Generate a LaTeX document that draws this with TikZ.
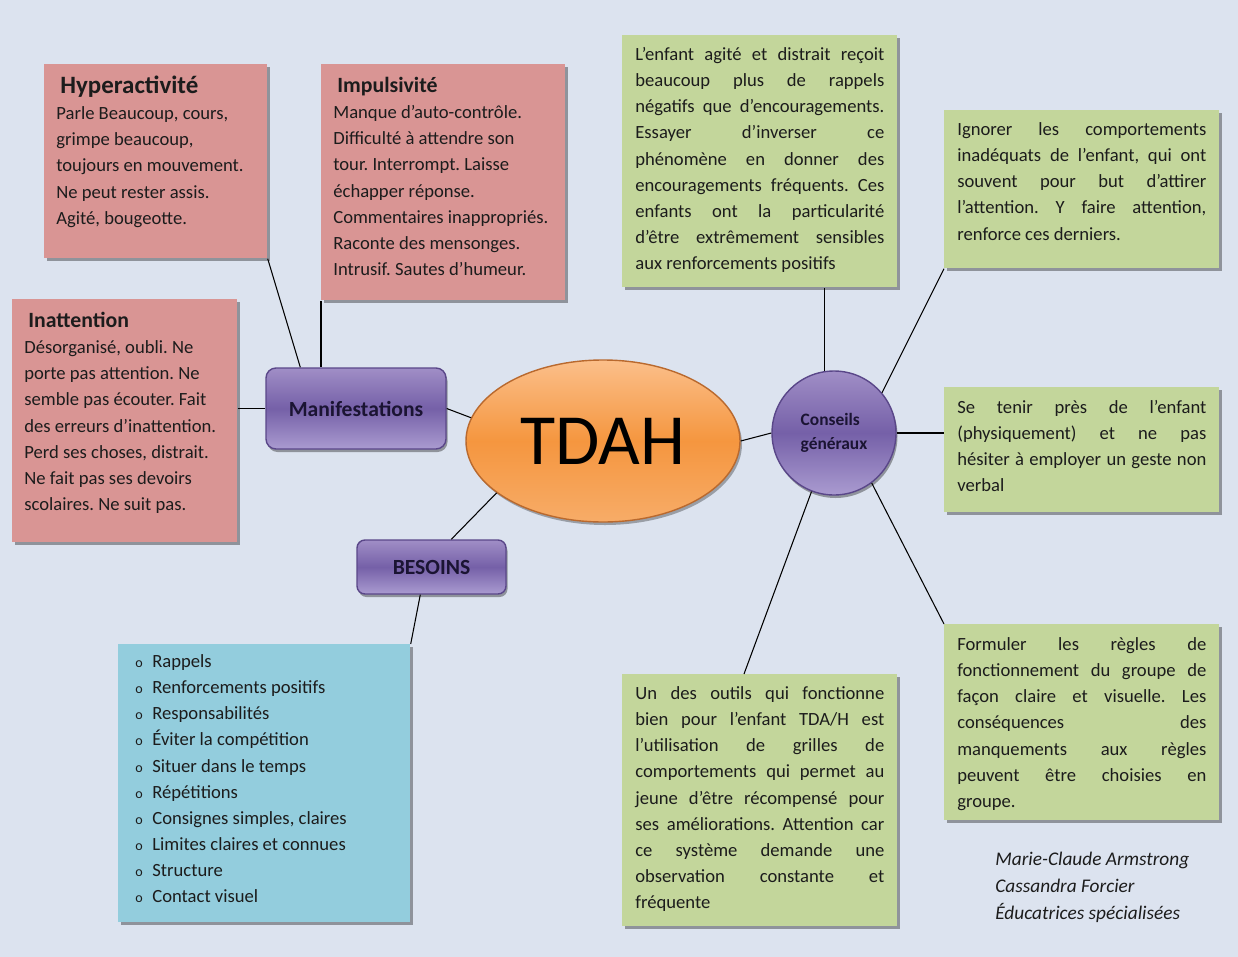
\documentclass[tikz,border=0pt]{standalone}
\usepackage{fontspec}
\setmainfont{Carlito}
\usepackage{tikz}
\usetikzlibrary{shapes.geometric,shadows}

\definecolor{fond}{HTML}{DCE3EF}
\definecolor{rougeboite}{HTML}{D99594}
\definecolor{vertboite}{HTML}{C3D69B}
\definecolor{bleuboite}{HTML}{93CDDD}
\definecolor{violetclair}{HTML}{A08EC6}
\definecolor{violetfonce}{HTML}{7560A8}
\definecolor{violetbas}{HTML}{AA9BD0}
\definecolor{violettrait}{HTML}{5A4789}
\definecolor{orangeclair}{HTML}{FBBF8A}
\definecolor{orangemilieu}{HTML}{F5963F}
\definecolor{orangebas}{HTML}{F7AC68}
\definecolor{orangetrait}{HTML}{B9692E}
\definecolor{texte}{HTML}{1C1C1C}
\definecolor{encre}{HTML}{1B1433}

\newlength{\px}
\setlength{\px}{0.02cm}
\newcommand{\corps}{\fontsize{10.6}{14.9}\selectfont\frenchspacing}
\newcommand{\gros}[2][12.4]{{\fontsize{#1}{14.9}\selectfont\bfseries\hspace*{4\px}#2}}
\newcommand{\puce}[1]{\hspace*{5\px}\makebox[17\px][l]{\fontsize{8}{10}\selectfont o}#1}
% largeur, hauteur, premiere ligne, texte
\newcommand{\boite}[4]{\parbox[t][#2\px][t]{#1\px}{\tolerance=9999\hbadness=10000\hyphenpenalty=10000\rule{0pt}{#3\px}#4}}

\begin{document}
\begin{tikzpicture}[x=0.02cm, y=-0.02cm,
    boite/.style={rectangle, inner xsep=12\px, inner ysep=0pt, anchor=north west, font=\corps, text=texte,
        drop shadow={shadow xshift=3\px, shadow yshift=-3\px, fill=black, opacity=.35}},
    rouge/.style={boite, fill=rougeboite},
    vert/.style={boite, fill=vertboite, inner xsep=13\px},
    bleu/.style={boite, fill=bleuboite},
    violet/.style={draw=violettrait, line width=0.8pt, top color=violetclair, bottom color=violetbas,
        middle color=violetfonce, text=encre, font=\fontsize{12.3}{14}\selectfont\bfseries,
        drop shadow={shadow xshift=1.5\px, shadow yshift=-3\px, fill=black, opacity=.35}},
    lien/.style={draw=black, line width=0.6pt}]

    % Fond
    \fill[fond] (0,0) rectangle (1238,957);
    \useasboundingbox (0,0) rectangle (1238,957);

    % Centre
    \node[ellipse, draw=orangetrait, line width=0.8pt, top color=orangeclair, bottom color=orangebas,
        middle color=orangemilieu, minimum width=274\px, minimum height=162\px, font=\fontsize{41}{45}\selectfont,
        drop shadow={shadow xshift=2\px, shadow yshift=-3\px, fill=black, opacity=.3}] (tdah) at (603,441) {TDAH};

    % Manifestations
    \node[violet, rounded corners=10\px, minimum width=180\px, minimum height=81\px] (manif) at (356,408.5) {Manifestations};
    \node[violet, rounded corners=8\px, minimum width=149\px, minimum height=54\px] (besoins) at (431.5,567) {BESOINS};

    \node[rouge] (hyper) at (44,64) {\boite{199}{194}{29}{\raggedright\gros[14.2]{Hyperactivité}\\
        Parle Beaucoup, cours,\\ grimpe beaucoup,\\ toujours en mouvement.\\ Ne peut rester assis.\\ Agité, bougeotte.}};
    \node[rouge] (impuls) at (321,64) {\boite{220}{236}{28}{\raggedright\gros{Impulsivité}\\
        Manque d’auto-contrôle.\\ Difficulté à attendre son\\ tour. Interrompt. Laisse\\ échapper réponse.\\
        Commentaires inappropriés.\\ Raconte des mensonges.\\ Intrusif. Sautes d’humeur.}};
    \node[rouge] (inatt) at (12,299) {\boite{201}{243}{28}{\raggedright\gros{Inattention}\\
        Désorganisé, oubli. Ne\\ porte pas attention. Ne\\ semble pas écouter. Fait\\ des erreurs d’inattention.\\
        Perd ses choses, distrait.\\ Ne fait pas ses devoirs\\ scolaires. Ne suit pas.}};

    % Besoins
    \node[bleu] (liste) at (118,644) {\boite{268}{278}{23}{\puce{Rappels}\\ \puce{Renforcements positifs}\\
        \puce{Responsabilités}\\ \puce{Éviter la compétition}\\ \puce{Situer dans le temps}\\ \puce{Répétitions}\\
        \puce{Consignes simples, claires}\\ \puce{Limites claires et connues}\\ \puce{Structure}\\ \puce{Contact visuel}}};

    % Conseils generaux
    \node[violet, circle, minimum size=124\px, inner sep=0pt, align=left, font=\fontsize{9.9}{14}\selectfont\bfseries]
        (conseils) at (834,433) {Conseils\\généraux};

    \node[vert] (conseil1) at (622,35) {\boite{249}{252}{25}{L’enfant agité et distrait reçoit\linebreak
        beaucoup plus de rappels\linebreak négatifs que d’encouragements.\linebreak Essayer d’inverser ce\linebreak
        phénomène en donner des\linebreak encouragements fréquents. Ces\linebreak enfants ont la particularité\linebreak
        d’être extrêmement sensibles\linebreak aux renforcements positifs}};
    \node[vert] (conseil2) at (944,110) {\boite{249}{158}{25}{Ignorer les comportements\linebreak
        inadéquats de l’enfant, qui ont\linebreak souvent pour but d’attirer\linebreak
        l’attention. Y faire attention,\linebreak renforce ces derniers.}};
    \node[vert] (conseil3) at (944,387) {\boite{249}{125}{26}{Se tenir près de l’enfant\linebreak
        (physiquement) et ne pas\linebreak hésiter à employer un geste non\linebreak verbal}};
    \node[vert] (conseil4) at (944,624) {\boite{249}{196}{26}{Formuler les règles de\linebreak
        fonctionnement du groupe de\linebreak façon claire et visuelle. Les\linebreak conséquences des\linebreak
        manquements aux règles\linebreak peuvent être choisies en\linebreak groupe.}};
    \node[vert] (conseil5) at (622,674) {\boite{249}{252}{25}{Un des outils qui fonctionne\linebreak
        bien pour l’enfant TDA/H est\linebreak l’utilisation de grilles de\linebreak comportements qui permet au\linebreak
        jeune d’être récompensé pour\linebreak ses améliorations. Attention car\linebreak ce système demande une\linebreak
        observation constante et\linebreak fréquente}};

    % Auteures
    \node[anchor=north west, align=left, inner sep=0pt, text=texte, font=\fontsize{11}{15.3}\selectfont\itshape]
        (auteurs) at (995,852) {Marie-Claude Armstrong\\ Cassandra Forcier\\ Éducatrices spécialisées};

    % Liens
    \draw[lien] (hyper.south east) -- ([xshift=35\px]manif.north west);
    \draw[lien] (impuls.south west) -- (impuls.south west |- manif.north);
    \draw[lien] (inatt.east |- manif.west) -- (manif.west);
    \draw[lien] (manif.east) -- (tdah.170);
    \draw[lien] (tdah.206) -- ([xshift=95\px]besoins.north west);
    \draw[lien] ([xshift=64\px]besoins.south west) -- (liste.north east);
    \draw[lien] (tdah.east) -- (conseils.west);
    \draw[lien] (conseils.99) -- (conseils.99 |- conseil1.south);
    \draw[lien] (conseils.40) -- (conseil2.south west);
    \draw[lien] (conseils.east) -- (conseils.east -| conseil3.west);
    \draw[lien] (conseils.-53) -- (conseil4.north west);
    \draw[lien] (conseils.-111) -- ([xshift=122\px]conseil5.north west);
\end{tikzpicture}
\end{document}
